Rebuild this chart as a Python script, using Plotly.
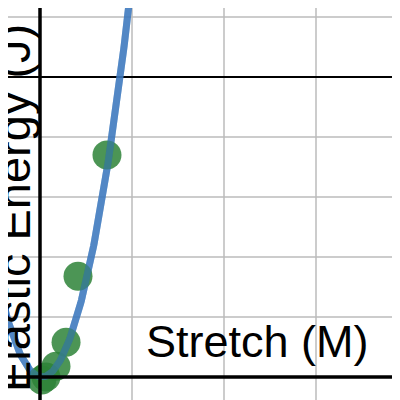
import numpy as np
import plotly.graph_objects as go

# measured points (stretch, energy) in grid units
stretch = [0.065, 0.02, 0.174, 0.283, 0.413, 0.728]
energy = [0.0, -0.05, 0.18, 0.58, 1.68, 3.70]

# fitted model curve y = k (x - x0)^2
k, x0 = 6.9, 0.02
xs = np.linspace(-0.5, 1.05, 200)
ys = k * (xs - x0) ** 2

fig = go.Figure()
fig.add_trace(go.Scatter(x=xs, y=ys, mode="lines",
                         line=dict(color="rgba(60,120,190,0.75)", width=7)))
fig.add_trace(go.Scatter(x=stretch, y=energy, mode="markers",
                         marker=dict(color="rgba(45,130,55,0.85)", size=29)))
fig.add_trace(go.Scatter(x=xs, y=ys, mode="lines",
                         line=dict(color="rgba(60,120,190,0.55)", width=7)))

# page body offsets the plot by ~8px, compensate in the ranges
xr = [-32 / 92, 368 / 92]
yr = [-31 / 60, 369 / 60]
for v in range(-1, 5):
    fig.add_shape(type="line", x0=v, x1=v, y0=yr[0], y1=yr[1],
                  line=dict(color="#bbbbbb", width=1.5), layer="below")
for v in range(-1, 7):
    c, w = ("black", 2) if v == 5 else ("#bbbbbb", 1.5)
    fig.add_shape(type="line", x0=xr[0], x1=xr[1], y0=v, y1=v,
                  line=dict(color=c, width=w), layer="below")
fig.add_shape(type="line", x0=0, x1=0, y0=yr[0], y1=yr[1], line=dict(color="black", width=3.5))
fig.add_shape(type="line", x0=xr[0], x1=xr[1], y0=0, y1=0, line=dict(color="black", width=3.5))

fig.add_annotation(x=(249 - 32) / 92, y=(369 - 333) / 60, text="Stretch (M)", showarrow=False,
                   font=dict(size=45, color="black", family="Liberation Sans, Arial"))
fig.add_annotation(x=(5 - 32) / 92, y=(369 - 200) / 60, text="Elastic Energy (J)", showarrow=False,
                   textangle=-90, font=dict(size=47, color="black", family="Liberation Sans, Arial"))

fig.update_layout(width=400, height=400, margin=dict(l=0, r=0, t=0, b=0),
                  plot_bgcolor="white", paper_bgcolor="white", showlegend=False)
fig.update_xaxes(range=xr, visible=False)
fig.update_yaxes(range=yr, visible=False)
fig.write_html("out.html")
